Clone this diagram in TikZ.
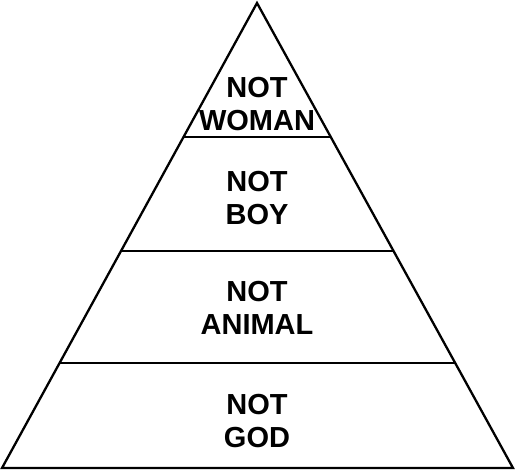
\documentclass[tikz,border=0pt]{standalone}
\usepackage{fontspec}
\setmainfont{Liberation Sans}
\usepackage{tikz}
\usetikzlibrary{calc}

\tikzset{
	layertext/.style={align=center,font=\fontsize{29}{33}\selectfont\bfseries,inner sep=0pt}
}

\begin{document}
\begin{tikzpicture}[x=1pt,y=-1pt,line width=2.3pt]
	\useasboundingbox (0,0) rectangle (516,472);
	\coordinate (apex) at (257,3);
	\coordinate (bl) at (2,468);
	\coordinate (br) at (513,468);
	\draw[line join=miter] (apex) -- (bl) -- (br) -- cycle;
	
	% layer lines, as fraction of the height
	\foreach \t in {0.2882,0.5333,0.7742}{
		\draw ($(apex)!\t!(bl)$) -- ($(apex)!\t!(br)$);
	}
	
	\node[layertext] (woman) at (257,104) {NOT\\WOMAN};
	\node[layertext] (boy) at (257,198) {NOT\\BOY};
	\node[layertext] (animal) at (257,308) {NOT\\ANIMAL};
	\node[layertext] (god) at (257,421) {NOT\\GOD};
\end{tikzpicture}
\end{document}
